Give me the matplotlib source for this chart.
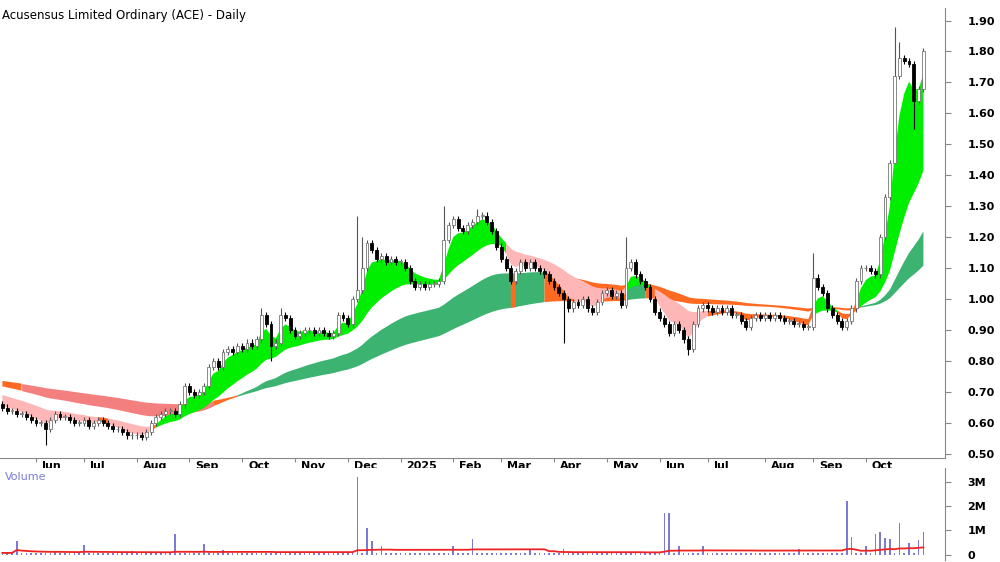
import numpy as np
import pandas as pd
import matplotlib
matplotlib.use("Agg")
import matplotlib.pyplot as plt

title = "Acusensus Limited Ordinary (ACE) - Daily"
prior_closes = [0.76, 0.76, 0.75, 0.75, 0.74, 0.74, 0.73, 0.73, 0.72, 0.72, 0.71, 0.70, 0.69, 0.68, 0.67,
                0.67, 0.66, 0.66, 0.66, 0.66, 0.66]
closes = [
    0.65, 0.64, 0.64, 0.63, 0.63, 0.62, 0.61, 0.60, 0.60, 0.58,
    0.61, 0.63, 0.62, 0.62, 0.61, 0.60, 0.60, 0.61, 0.59, 0.60,
    0.61, 0.60, 0.59, 0.58, 0.58, 0.57, 0.56, 0.56, 0.56, 0.555,
    0.57, 0.60, 0.62, 0.63, 0.64, 0.64, 0.63, 0.66, 0.72, 0.70,
    0.69, 0.70, 0.72, 0.78, 0.80, 0.78, 0.83, 0.84, 0.83, 0.85,
    0.84, 0.86, 0.85, 0.87, 0.95, 0.92, 0.85, 0.86, 0.95, 0.94,
    0.90, 0.88, 0.89, 0.90, 0.90, 0.89, 0.90, 0.89, 0.88, 0.89,
    0.95, 0.94, 0.92, 1.00, 1.03, 1.10, 1.18, 1.16, 1.13, 1.14,
    1.12, 1.13, 1.12, 1.12, 1.10, 1.06, 1.04, 1.05, 1.04, 1.05,
    1.05, 1.06, 1.19, 1.24, 1.26, 1.23, 1.22, 1.24, 1.25, 1.27,
    1.27, 1.25, 1.22, 1.17, 1.13, 1.10, 1.06, 1.09, 1.12, 1.10,
    1.12, 1.10, 1.09, 1.08, 1.06, 1.04, 1.02, 1.00, 0.97, 0.99,
    0.98, 1.00, 0.97, 0.96, 0.99, 1.02, 1.03, 1.01, 1.02, 0.98,
    1.10, 1.12, 1.08, 1.06, 1.04, 1.00, 0.96, 0.94, 0.92, 0.89,
    0.92, 0.90, 0.87, 0.84, 0.92, 0.97, 0.98, 0.97, 0.96, 0.97,
    0.96, 0.97, 0.95, 0.95, 0.93, 0.91, 0.94, 0.95, 0.94, 0.95,
    0.94, 0.95, 0.94, 0.93, 0.93, 0.92, 0.92, 0.91, 0.91, 1.07,
    1.04, 1.02, 0.97, 0.95, 0.93, 0.91, 0.93, 0.97, 1.06, 1.10,
    1.10, 1.09, 1.08, 1.20, 1.33, 1.44, 1.72, 1.78, 1.77, 1.76,
    1.64, 1.68, 1.80,
]
spike_highs = {54: 0.97, 58: 0.97, 74: 1.27, 75: 1.20, 92: 1.30, 99: 1.29,
               130: 1.20, 169: 1.15, 186: 1.88, 187: 1.83}
spike_lows = {9: 0.53, 56: 0.80, 117: 0.86, 143: 0.82, 175: 0.90, 186: 1.51, 190: 1.55}
vol_base = 80000
vol_spikes = {3: 550000, 11: 150000, 17: 400000, 27: 150000, 36: 850000,
              42: 450000, 46: 200000, 74: 3200000, 76: 1100000, 77: 550000, 79: 350000,
              94: 350000, 98: 650000, 110: 250000, 117: 250000, 138: 1700000, 139: 1700000,
              141: 350000, 146: 350000, 166: 250000, 176: 2200000, 177: 750000,
              180: 350000, 182: 850000, 183: 950000, 184: 700000, 185: 650000,
              187: 1300000, 189: 500000, 191: 600000, 192: 950000}

n = len(closes)
dates = pd.bdate_range("2024-05-15", periods=2 * n)[::2]
idx = np.arange(n)
opens = [prior_closes[-1]] + closes[:-1]
highs = [spike_highs.get(i, max(o, c) + 0.01) for i, (o, c) in enumerate(zip(opens, closes))]
lows = [spike_lows.get(i, min(o, c) - 0.01) for i, (o, c) in enumerate(zip(opens, closes))]
vols = [vol_spikes.get(i, vol_base) for i in range(n)]

allc = pd.Series(prior_closes + closes)
short_spans = [4, 7, 10, 13, 16, 20]
long_spans = [45, 52, 60, 67, 75, 90]
def group(spans):
    arr = np.array([allc.ewm(span=s, adjust=False).mean().values for s in spans])
    return arr[:, len(prior_closes) - 1:]
S_full = group(short_spans)
L_full = group(long_spans)
S, L = S_full[:, 1:], L_full[:, 1:]

fig = plt.figure(figsize=(10, 5.62), dpi=100)
ax = fig.add_axes([0, 0.185, 0.945, 0.80])
axv = fig.add_axes([0, 0.004, 0.945, 0.164])

def ribbon(G, Gfull, bull, bear, comp, thr, use_slope):
    top, bot = G.max(0), G.min(0)
    above = G[0] > G[-1]
    isbull = above.copy()
    if use_slope:
        isbull &= np.diff(Gfull[0]) > 0
    narrow = (top - bot) / G[-1] < thr
    m1 = isbull
    m2 = (~isbull) & (narrow | above)
    m3 = (~isbull) & ~(narrow | above)
    for m, col in [(m1, bull), (m2, comp), (m3, bear)]:
        mm = m.copy()
        mm[1:] |= m[:-1]
        ax.fill_between(idx, bot, top, where=mm, color=col, lw=0, interpolate=False, zorder=1)

ribbon(L, L_full, "#3cb371", "#f47f7f", "#ff6a22", 0.03, True)
ribbon(S, S_full, "#00ee00", "#ffb6b6", "#ff6a22", 0.025, False)

for i in range(n):
    o, c = opens[i], closes[i]
    up = c >= o
    ax.vlines(i, lows[i], highs[i], color="#555555" if up else "black", lw=0.8, zorder=3)
    ax.bar(i, max(abs(c - o), 0.002), bottom=min(o, c), width=0.6,
           color="white" if up else "black", edgecolor="#777777" if up else "black", lw=0.6, zorder=4)

ax.set_xlim(-0.5, 196.5)
ax.set_ylim(0.487, 1.939)
ax.yaxis.tick_right()
ax.set_yticks(np.arange(0.5, 1.91, 0.1))
ax.set_yticklabels([f"{v:.2f}" for v in np.arange(0.5, 1.91, 0.1)], fontsize=8, fontweight="bold")
for s in ["top", "left"]:
    ax.spines[s].set_visible(False)
ax.spines["right"].set_color("#888888")
ax.spines["bottom"].set_color("#888888")
months = pd.Series(dates.to_period("M"))
mt = [i for i in range(1, n - 3) if months[i] != months[i - 1]]
ax.set_xticks(mt)
ax.set_xticklabels([])
ax.tick_params(axis="x", length=3, colors="#888888")
ax.tick_params(axis="y", length=4, colors="#888888", labelcolor="black", pad=12)
for i in mt:
    d = dates[i]
    lab = str(d.year) if d.month == 1 else d.strftime("%b")
    ax.text(i + 1.2, -0.006, lab, transform=ax.get_xaxis_transform(), ha="left", va="top",
            fontsize=8, fontweight="bold")
ax.text(0.002, 0.998, title, transform=ax.transAxes, ha="left", va="top", fontsize=8.5)

axv.bar(idx, vols, width=0.35, color="#7b7bd6", zorder=2)
vma = pd.Series(vols).rolling(40, min_periods=1).mean()
axv.plot(idx, vma, color="#ee2222", lw=1.3, zorder=3)
axv.set_xlim(-0.5, 196.5)
axv.set_ylim(-200000, 3570000)
axv.yaxis.tick_right()
axv.set_yticks([0, 1e6, 2e6, 3e6])
axv.set_yticklabels(["0", "1M", "2M", "3M"], fontsize=8, fontweight="bold")
axv.set_xticks([])
for s in ["top", "left", "bottom"]:
    axv.spines[s].set_visible(False)
axv.spines["right"].set_color("#888888")
axv.tick_params(axis="y", length=4, colors="#888888", labelcolor="black", pad=12)
axv.text(0.005, 0.95, "Volume", transform=axv.transAxes, ha="left", va="top", fontsize=8, color="#7b7bd6")

fig.savefig("out.png", dpi=100)
